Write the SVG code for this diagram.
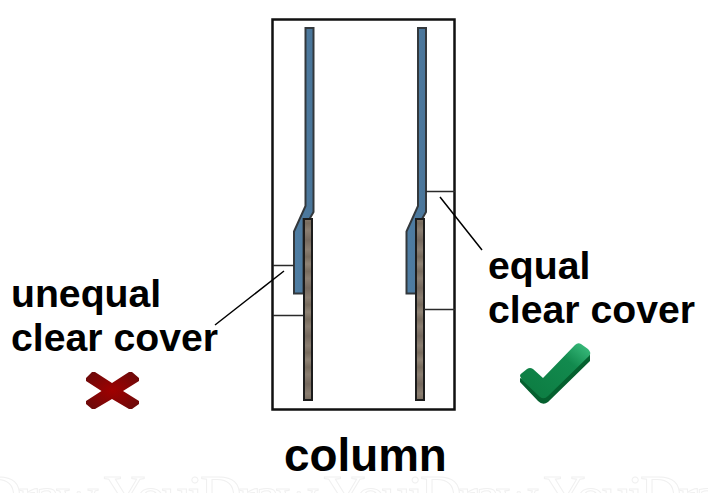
<svg xmlns="http://www.w3.org/2000/svg" width="708" height="493" viewBox="0 0 708 493">
<style>
.lbl{font-family:"Liberation Sans",Arial,sans-serif;font-weight:700;fill:#000}
.wm{font-family:"Liberation Serif","Times New Roman",serif;font-size:58px;fill:none;stroke:#f0f0f0;stroke-width:1}
.steel{fill:url(#blue);stroke:#33383c;stroke-width:2;stroke-linejoin:miter}
.bar{fill:url(#brown);stroke:#1c1c1c;stroke-width:2}
.dim{stroke:#2a2a2a;stroke-width:1.500;fill:none}
.lead{stroke:#000;stroke-width:1.500;fill:none}
</style>
<defs>
<linearGradient id="blue" x1="0" x2="1" y1="0" y2="0"><stop offset="0" stop-color="#4f7ea4"/><stop offset="1" stop-color="#4a7599"/></linearGradient>
<linearGradient id="brown" x1="0" y1="0" x2="0" y2="24" gradientUnits="userSpaceOnUse" spreadMethod="reflect">
<stop offset="0" stop-color="#75695e"/><stop offset="0.4" stop-color="#8a7e71"/><stop offset="0.7" stop-color="#786c5e"/><stop offset="1" stop-color="#8f8375"/>
</linearGradient>
<linearGradient id="chk" x1="0" y1="1" x2="1" y2="0"><stop offset="0" stop-color="#0c7a40"/><stop offset="0.68" stop-color="#128a4e"/><stop offset="1" stop-color="#3fc383"/></linearGradient>
<radialGradient id="crs" cx="0.5" cy="0.5" r="0.6"><stop offset="0" stop-color="#a00000"/><stop offset="1" stop-color="#6f0a0a"/></radialGradient>
</defs>
<text class="wm" x="-20" y="515" textLength="740">Draw YouiDraw YouiDraw YouiDra</text>
<rect id="column" x="272.500" y="19.500" width="182" height="390" fill="none" stroke="#111" stroke-width="2.500"/>
<g id="left-bar">
<path class="steel" d="M305.500 28H313.500V212L309.500 219H303.500V293.500H294V231.500L305.500 206Z"/>
<rect class="bar" x="304" y="219" width="8" height="181"/>
</g>
<g id="right-bar">
<path class="steel" d="M418 28H426V212L422 219H416V293.500H406.500V231.500L418 206Z"/>
<rect class="bar" x="416" y="219" width="8" height="181"/>
</g>
<g id="connectors">
<path class="dim" d="M273 265.500H294M273 315.500H303M426 191.500H455M424 309.500H455"/>
<path class="lead" d="M284 271L215 325M440 197L482 250"/>
</g>
<g id="label-unequal">
<text class="lbl" x="11" y="307" font-size="39.200">unequal</text>
<text class="lbl" x="11" y="351" font-size="39.200">clear cover</text>
</g>
<g id="label-equal">
<text class="lbl" x="488" y="279" font-size="39.200">equal</text>
<text class="lbl" x="488" y="323" font-size="39.200">clear cover</text>
</g>
<g id="label-column"><text class="lbl" x="284" y="471" font-size="45.800">column</text></g>
<g id="cross">
<path fill="url(#crs)" d="M92 372L95 372L112 383L129 372L132 372L139 378L139 381L123 391L139 401L139 404L132 409L129 409L112 399L95 409L92 409L86 404L86 401L101.500 391L86 381L86 378Z"/>
</g>
<g id="check">
<path fill="#05602f" d="M520 378V382L538 401Q543 406 548 402L590 361V354L545 390Z"/>
<path fill="url(#chk)" d="M520 376Q520 374 522 373L527 369Q530 367 533 369L543 378L575 345Q578 342 581 344L588 349Q592 353 589 356L548 396Q544 400 540 397L522 380Z"/>
</g>
</svg>
